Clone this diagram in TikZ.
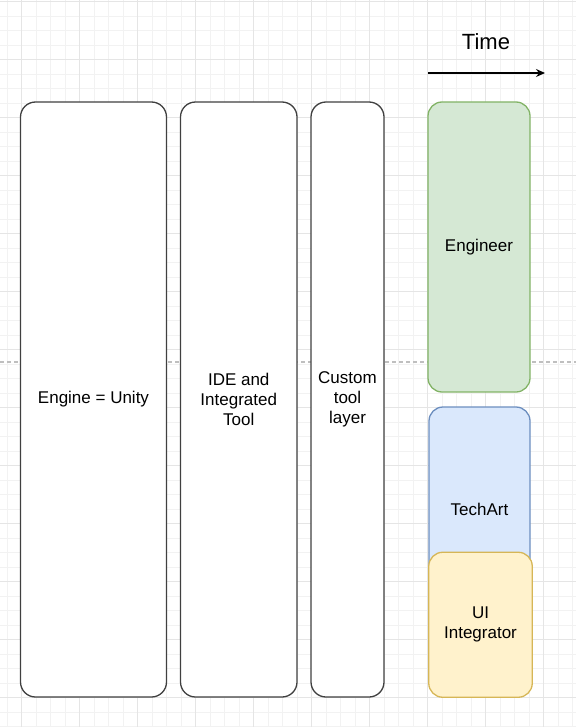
\documentclass[tikz,border=0pt]{standalone}
\usepackage{fontspec}
\setmainfont{Liberation Sans}
\usetikzlibrary{arrows.meta}
\definecolor{engfill}{HTML}{D5E8D4}
\definecolor{engline}{HTML}{82B366}
\definecolor{artfill}{HTML}{DAE8FC}
\definecolor{artline}{HTML}{6C8EBF}
\definecolor{uifill}{HTML}{FFF2CC}
\definecolor{uiline}{HTML}{D6B656}
\begin{document}
\begin{tikzpicture}
        [x=1pt, y=-1pt,
        minorgrid/.style={draw=black!5, line width=0.8pt},
        majorgrid/.style={draw=black!10, line width=1pt},
        split/.style={draw=black!25, line width=1.3pt, dash pattern=on 4pt off 3pt},
        layer/.style={draw=black!75, line width=1.3pt, rounded corners=15pt, fill=white,
            inner sep=0pt, align=center, font=\fontsize{17}{20}\selectfont},
        role/.style={layer, rounded corners=14pt},
        line/.style={line width=1.3pt, -{Stealth[length=9pt, width=8pt]}}]
        \useasboundingbox (0,0) rectangle (576,727);
        % grid
        \foreach \i in {0,...,39}
            \draw[minorgrid] ({7.2+14.5*\i},0) -- ++(0,727);
        \foreach \i in {0,...,50}
            \draw[minorgrid] (0,{1.5+14.5*\i}) -- ++(576,0);
        \foreach \i in {0,...,9}
            \draw[majorgrid] ({21.7+58*\i},0) -- ++(0,727);
        \foreach \i in {0,...,12}
            \draw[majorgrid] (0,{1.5+58*\i}) -- ++(576,0);
        \coordinate (s0) at (0,362);
        \coordinate (s1) at (576,362);
        \draw[split] (s0) -- (s1);
        % layers
        \node[layer, minimum width=146pt, minimum height=595pt] (engine) at (93.5,399.5)
            {Engine = Unity};
        \node[layer, minimum width=116.5pt, minimum height=595pt] (ide) at (238.75,399.5)
            {IDE and\\Integrated\\Tool};
        \node[layer, minimum width=73pt, minimum height=595pt] (custom) at (347.5,399.5)
            {Custom\\tool\\layer};
        % roles
        \node[role, draw=engline, fill=engfill, minimum width=102pt, minimum height=290pt]
            (engineer) at (479,247) {Engineer};
        \node[role, draw=artline, fill=artfill, minimum width=101pt, minimum height=204pt]
            (techart) at (479.5,509) {TechArt};
        \node[role, draw=uiline, fill=uifill, minimum width=103.5pt, minimum height=145pt]
            (ui) at (480.5,624.75) {UI\\Integrator};
        % time
        \coordinate (t0) at (428,73);
        \coordinate (t1) at (545,73);
        \draw[line] (t0) -- (t1);
        \node[font=\fontsize{22}{26}\selectfont] (time) at (486,42) {Time};
    \end{tikzpicture}
\end{document}
